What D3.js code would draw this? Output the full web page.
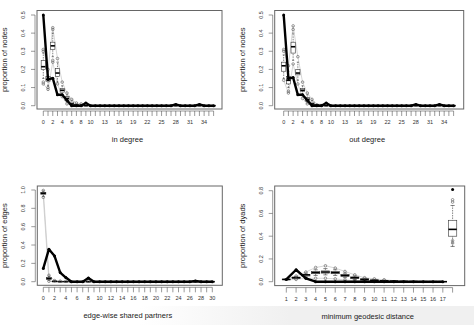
<!DOCTYPE html>
<html>
<head>
<meta charset="utf-8">
<script src="https://cdn.jsdelivr.net/npm/d3@7"></script>
<style>
  body { margin: 0; background: #fff; }
  text { font-family: "Liberation Sans", Arial, sans-serif; }
</style>
</head>
<body>
<svg id="chart" width="474" height="325"></svg>
<script>
// ---- data ----
// in degree 0..36
const inDegObs = [0.5, 0.145, 0.152, 0.06, 0.06, 0.03, 0, 0, 0, 0.015,
  0, 0, 0, 0, 0, 0, 0, 0, 0, 0, 0, 0, 0, 0, 0, 0, 0, 0, 0.007, 0, 0, 0, 0, 0.007, 0, 0, 0];
// [q1, median, q3, lower whisker, upper whisker]
const inDegSim = [
  [0.20, 0.215, 0.25, 0.15, 0.29], [0.135, 0.145, 0.16, 0.11, 0.19],
  [0.31, 0.33, 0.35, 0.27, 0.40], [0.16, 0.18, 0.205, 0.13, 0.24],
  [0.075, 0.085, 0.095, 0.06, 0.11], [0.03, 0.04, 0.05, 0.02, 0.06],
  [0.007, 0.01, 0.02, 0, 0.03], [0, 0.003, 0.007, 0, 0.01], [0, 0, 0.003, 0, 0.007]
];
const inDegOut = [[0.30, 0.31, 0.13, 0.12], [0.20, 0.09, 0.10], [0.42, 0.43, 0.24, 0.25],
  [0.26, 0.12], [0.13, 0.05], [0.07, 0.01], [0.035], [0.015], [0.01]];
const inDegLabels = [0, 2, 4, 6, 8, 10, 13, 16, 19, 22, 25, 28, 31, 34];

// out degree 0..36
const outDegObs = [0.5, 0.15, 0.155, 0.06, 0.06, 0.03, 0, 0, 0, 0.015,
  0, 0, 0, 0, 0, 0, 0, 0, 0, 0, 0, 0, 0, 0, 0, 0, 0, 0, 0.007, 0, 0, 0, 0, 0.007, 0, 0, 0];
const outDegSim = [
  [0.19, 0.22, 0.24, 0.15, 0.28], [0.12, 0.14, 0.16, 0.10, 0.19],
  [0.29, 0.325, 0.35, 0.25, 0.40], [0.17, 0.18, 0.20, 0.14, 0.24],
  [0.08, 0.085, 0.095, 0.06, 0.11], [0.025, 0.035, 0.045, 0.015, 0.06],
  [0.005, 0.01, 0.02, 0, 0.03], [0, 0.003, 0.007, 0, 0.01], [0, 0, 0.003, 0, 0.007]
];
const outDegOut = [[0.30, 0.31, 0.14], [0.22, 0.08, 0.07], [0.42, 0.44, 0.23],
  [0.27, 0.12], [0.13, 0.04], [0.07, 0.01], [0.035], [], []];
const outDegLabels = [0, 2, 4, 6, 8, 10, 13, 16, 19, 22, 25, 28, 31, 34];

// edge-wise shared partners 0..30
const espObs = [0.145, 0.355, 0.28, 0.10, 0.045, 0, 0, 0, 0.04, 0,
  0, 0, 0, 0, 0, 0, 0, 0, 0, 0, 0, 0, 0, 0, 0, 0, 0, 0.008, 0, 0, 0];
const espSim = [
  [0.95, 0.965, 0.975, 0.93, 0.99], [0.025, 0.035, 0.045, 0.015, 0.06],
  [0, 0.003, 0.006, 0, 0.01], [0, 0, 0.003, 0, 0.005], [0, 0, 0.002, 0, 0.004]
];
const espOut = [[0.92, 0.995], [0.07, 0.005], [0.012], [0.006], [0.005], [], [], [], [0.006]];
const espLabels = [0, 2, 4, 6, 8, 10, 12, 14, 16, 18, 20, 22, 24, 26, 28, 30];

// minimum geodesic distance 1..17, then Inf (drawn at 18)
const distObs = [0.02, 0.105, 0.03, 0, 0, 0, 0, 0, 0, 0, 0, 0, 0, 0, 0, 0, 0];
const distInfObs = 0.81;
const distSim = [
  [0.018, 0.02, 0.022, 0.016, 0.024], [0.03, 0.035, 0.04, 0.025, 0.045],
  [0.05, 0.06, 0.065, 0.04, 0.075], [0.07, 0.08, 0.09, 0.055, 0.105],
  [0.075, 0.085, 0.095, 0.06, 0.115], [0.07, 0.08, 0.09, 0.055, 0.105],
  [0.045, 0.055, 0.062, 0.035, 0.075], [0.028, 0.035, 0.042, 0.02, 0.05],
  [0.015, 0.02, 0.025, 0.01, 0.03], [0.008, 0.012, 0.015, 0.004, 0.02],
  [0.004, 0.007, 0.01, 0.001, 0.014], [0.002, 0.004, 0.006, 0, 0.009],
  [0.001, 0.002, 0.003, 0, 0.005], [0, 0.001, 0.002, 0, 0.003],
  [0, 0, 0.001, 0, 0.002], [0, 0, 0.001, 0, 0.001], [0, 0, 0, 0, 0.001],
  [0.40, 0.46, 0.54, 0.31, 0.67]
];
const distOut = [[], [0.05, 0.02], [0.085, 0.03], [0.125, 0.03], [0.14, 0.03], [0.12, 0.025],
  [0.09, 0.015], [0.06, 0.01], [0.035], [0.025], [0.017], [], [], [], [], [], [],
  [0.34, 0.36, 0.70, 0.72]];
const distLabels = [1, 2, 3, 4, 5, 6, 7, 8, 9, 10, 11, 12, 13, 14, 15, 16, 17];

const svg = d3.select("#chart");
const fmt = d3.format(".1f");

// faint grey band at the bottom of the screenshot
const defs = svg.append("defs");
const grad = defs.append("linearGradient").attr("id", "band");
grad.append("stop").attr("offset", "0%").attr("stop-color", "#f0f0f0").attr("stop-opacity", 0);
grad.append("stop").attr("offset", "45%").attr("stop-color", "#f0f0f0").attr("stop-opacity", 1);
grad.append("stop").attr("offset", "100%").attr("stop-color", "#f0f0f0").attr("stop-opacity", 1);
svg.append("rect").attr("x", 140).attr("y", 306).attr("width", 334).attr("height", 19)
  .attr("fill", "url(#band)");

function panel(cfg) {
  const g = svg.append("g");
  const x = d3.scaleLinear().domain(cfg.xDomain).range(cfg.xRange);
  const y = d3.scaleLinear().domain(cfg.yDomain).range(cfg.yRange);
  const n = cfg.cats.length;
  const step = Math.abs(x(1) - x(0));
  const bw = step * cfg.boxW;

  // plot frame
  g.append("rect")
    .attr("x", cfg.box[0]).attr("y", cfg.box[1])
    .attr("width", cfg.box[2] - cfg.box[0]).attr("height", cfg.box[3] - cfg.box[1])
    .attr("fill", "#fff").attr("stroke", "#666").attr("stroke-width", 1);

  // x axis (ticks hanging from the frame)
  const ax = g.append("g").attr("transform", `translate(0,${cfg.box[3] + 2})`);
  ax.append("line")
    .attr("x1", x(cfg.cats[0])).attr("x2", x(cfg.cats[n - 1]))
    .attr("stroke", "#555").attr("stroke-width", 0.6);
  ax.selectAll("line.t").data(cfg.cats).join("line")
    .attr("class", "t")
    .attr("x1", d => x(d)).attr("x2", d => x(d)).attr("y1", 0).attr("y2", 5)
    .attr("stroke", "#555").attr("stroke-width", 0.6);
  ax.selectAll("text").data(cfg.xLabels).join("text")
    .attr("x", d => x(d)).attr("y", 13)
    .attr("text-anchor", "middle").attr("font-size", 5.5).attr("fill", "#333")
    .text(d => d);

  // y axis
  const ay = g.append("g").attr("transform", `translate(${cfg.box[0] - 2},0)`);
  ay.append("line")
    .attr("y1", y(cfg.yTicks[0])).attr("y2", y(cfg.yTicks[cfg.yTicks.length - 1]))
    .attr("stroke", "#555").attr("stroke-width", 0.6);
  ay.selectAll("line.t").data(cfg.yTicks).join("line")
    .attr("class", "t")
    .attr("x1", 0).attr("x2", -4).attr("y1", d => y(d)).attr("y2", d => y(d))
    .attr("stroke", "#555").attr("stroke-width", 0.6);
  ay.selectAll("text").data(cfg.yTicks).join("text")
    .attr("transform", d => `translate(-10,${y(d)}) rotate(-90)`)
    .attr("text-anchor", "middle").attr("font-size", 5.5).attr("fill", "#333")
    .text(d => fmt(d));

  // titles
  g.append("text")
    .attr("x", (cfg.box[0] + cfg.box[2]) / 2 - 2).attr("y", cfg.box[3] + 33)
    .attr("text-anchor", "middle").attr("font-size", 7.5).attr("fill", "#222")
    .text(cfg.xTitle);
  g.append("text")
    .attr("transform", `translate(${cfg.box[0] - 30},${(cfg.box[1] + cfg.box[3]) / 2}) rotate(-90)`)
    .attr("text-anchor", "middle").attr("font-size", 7.5).attr("fill", "#222")
    .text(cfg.yTitle);

  const stats = cfg.cats.map((c, i) => cfg.sim[i] || [0, 0, 0, 0, 0]);
  const outs = cfg.cats.map((c, i) => cfg.out[i] || []);
  const lineCats = cfg.cats.slice(0, cfg.lineCount || n);

  // grey envelope lines
  const lo = lineCats.map((c, i) => d3.min([stats[i][3], ...outs[i]]));
  const hi = lineCats.map((c, i) => d3.max([stats[i][4], ...outs[i]]));
  [lo, hi].forEach(arr => {
    g.append("path")
      .datum(arr)
      .attr("d", d3.line().x((d, i) => x(lineCats[i])).y(d => y(d)))
      .attr("fill", "none").attr("stroke", "#c4c4c4").attr("stroke-width", 0.7);
  });

  // boxplots
  const bx = g.selectAll("g.bx").data(cfg.cats).join("g").attr("class", "bx");
  bx.append("line")
    .attr("x1", d => x(d)).attr("x2", d => x(d))
    .attr("y1", (d, i) => y(stats[i][3])).attr("y2", (d, i) => y(stats[i][4]))
    .attr("stroke", "#333").attr("stroke-width", 0.6).attr("stroke-dasharray", "1.5,1");
  bx.selectAll("line.cap").data((d, i) => [[d, stats[i][3]], [d, stats[i][4]]]).join("line")
    .attr("class", "cap")
    .attr("x1", d => x(d[0]) - bw / 4).attr("x2", d => x(d[0]) + bw / 4)
    .attr("y1", d => y(d[1])).attr("y2", d => y(d[1]))
    .attr("stroke", "#333").attr("stroke-width", 0.6);
  bx.append("rect")
    .attr("x", d => x(d) - bw / 2).attr("width", bw)
    .attr("y", (d, i) => y(stats[i][2]))
    .attr("height", (d, i) => Math.max(0, y(stats[i][0]) - y(stats[i][2])))
    .attr("fill", "#fff").attr("stroke", "#333").attr("stroke-width", 0.6);
  bx.append("line")
    .attr("x1", d => x(d) - bw / 2).attr("x2", d => x(d) + bw / 2)
    .attr("y1", (d, i) => y(stats[i][1])).attr("y2", (d, i) => y(stats[i][1]))
    .attr("stroke", "#000").attr("stroke-width", 1.6);
  bx.selectAll("circle").data((d, i) => outs[i].map(v => [d, v])).join("circle")
    .attr("cx", d => x(d[0])).attr("cy", d => y(d[1])).attr("r", 1.3)
    .attr("fill", "none").attr("stroke", "#555").attr("stroke-width", 0.6);

  // observed statistics
  const obsCats = cfg.cats.slice(0, cfg.obs.length);
  g.append("path")
    .datum(cfg.obs)
    .attr("d", d3.line().x((d, i) => x(obsCats[i])).y(d => y(d)))
    .attr("fill", "none").attr("stroke", "#000").attr("stroke-width", 2.4)
    .attr("stroke-linejoin", "round");
  const pts = cfg.obs.map((v, i) => [obsCats[i], v]);
  if (cfg.extraObs) pts.push(cfg.extraObs);
  g.selectAll("circle.obs").data(pts).join("circle")
    .attr("class", "obs")
    .attr("cx", d => x(d[0])).attr("cy", d => y(d[1])).attr("r", 1.5)
    .attr("fill", "#000");
}

panel({
  cats: d3.range(0, 37), xDomain: [0, 36], xRange: [43.3, 213.6],
  yDomain: [0, 0.5], yRange: [105.7, 15], yTicks: [0, 0.1, 0.2, 0.3, 0.4, 0.5],
  box: [37, 10.5, 222, 109], boxW: 0.9,
  obs: inDegObs, sim: inDegSim, out: inDegOut, xLabels: inDegLabels,
  xTitle: "in degree", yTitle: "proportion of nodes"
});
panel({
  cats: d3.range(0, 37), xDomain: [0, 36], xRange: [283.7, 453.6],
  yDomain: [0, 0.5], yRange: [105.7, 15], yTicks: [0, 0.1, 0.2, 0.3, 0.4, 0.5],
  box: [274.7, 10.5, 463.7, 109], boxW: 0.9,
  obs: outDegObs, sim: outDegSim, out: outDegOut, xLabels: outDegLabels,
  xTitle: "out degree", yTitle: "proportion of nodes"
});
panel({
  cats: d3.range(0, 31), xDomain: [0, 30], xRange: [43.3, 212.3],
  yDomain: [0, 1], yRange: [281.7, 190], yTicks: [0, 0.2, 0.4, 0.6, 0.8, 1.0],
  box: [37.3, 186, 222.3, 285.3], boxW: 0.9,
  obs: espObs, sim: espSim, out: espOut, xLabels: espLabels,
  xTitle: "edge-wise shared partners", yTitle: "proportion of edges"
});
panel({
  cats: d3.range(1, 19), xDomain: [1, 18], xRange: [286.3, 452.6],
  yDomain: [0, 0.8], yRange: [281.7, 190.7], yTicks: [0, 0.2, 0.4, 0.6, 0.8],
  box: [274.7, 186, 464.7, 285.6], boxW: 0.85, lineCount: 17,
  obs: distObs, sim: distSim, out: distOut, xLabels: distLabels, extraObs: [18, distInfObs],
  xTitle: "minimum geodesic distance", yTitle: "proportion of dyads"
});
</script>
</body>
</html>
